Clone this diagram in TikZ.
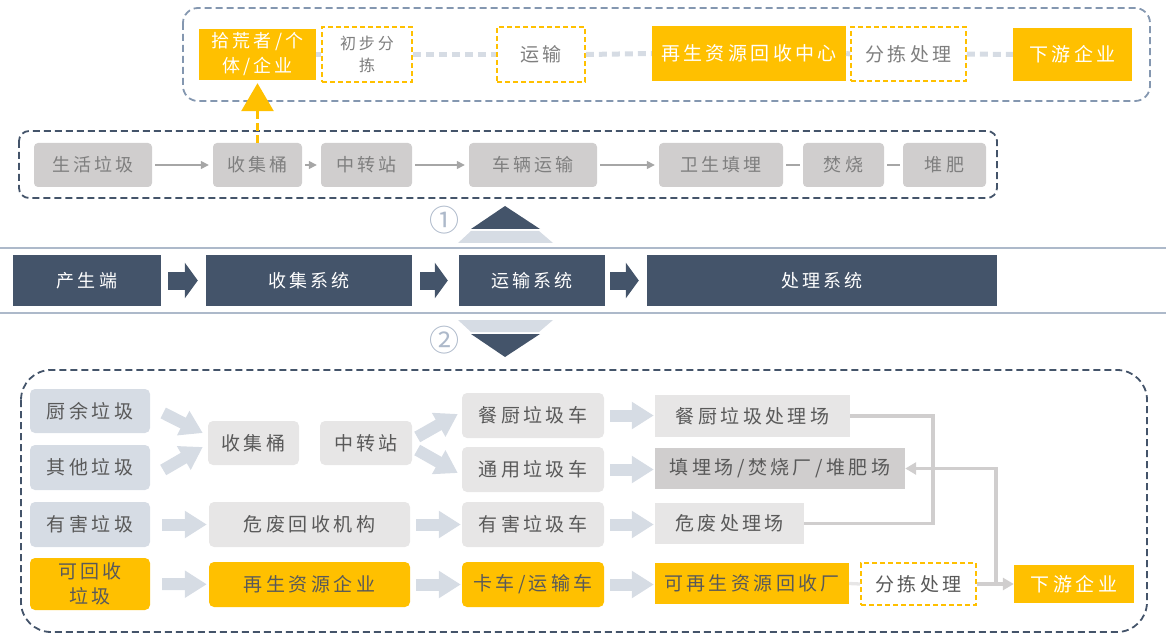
\documentclass[tikz,border=0pt]{standalone}
\usepackage{fontspec}
\newfontfamily\cjk{Noto Sans CJK SC}[LetterSpace=18]
\usetikzlibrary{arrows.meta,calc}

\definecolor{navy}{HTML}{44546A}
\definecolor{slate}{HTML}{8497B0}
\definecolor{gold}{HTML}{FFC000}
\definecolor{pale}{HTML}{D6DCE4}
\definecolor{lgray}{HTML}{E7E6E6}
\definecolor{mgray}{HTML}{D0CECE}
\definecolor{txt}{HTML}{595959}
\definecolor{softtxt}{HTML}{7F7F7F}
\definecolor{rulec}{HTML}{ADB9CA}

\tikzset{
  box/.style={inner sep=0pt, align=center, text=txt,
    font=\cjk\fontsize{19}{25}\selectfont},
  goldbox/.style={box, fill=gold},
  hollow/.style={box, fill=white, draw=gold, line width=1.6pt,
    dash pattern=on 5pt off 3pt, text=softtxt},
  greybox/.style={box, fill=mgray, rounded corners=4pt, text=softtxt,
    font=\cjk\fontsize{18}{24}\selectfont},
  bandbox/.style={box, fill=navy, text=white,
    font=\cjk\fontsize{18}{24}\selectfont},
  frame/.style={draw=navy, line width=1.8pt, dash pattern=on 7pt off 4pt},
  thin/.style={draw=black!35, line width=1.4pt, shorten <=3pt, shorten >=4pt},
  dotline/.style={draw=pale, line width=5pt, dash pattern=on 8pt off 5pt},
  darr/.style={draw=navy, line width=18pt, -{Triangle[length=13pt,width=35pt]}},
  lblk/.style={draw=pale, line width=12pt, -{Triangle[length=22pt,width=26pt]}},
  link/.style={draw=mgray, line width=3.3pt},
  marker/.style={text=rulec, inner sep=0pt, font=\cjk\fontsize{30}{30}\selectfont},
}

\begin{document}
\begin{tikzpicture}[x=1pt,y=-1pt]
  \useasboundingbox (0,0) rectangle (1166,636);

  % top: informal recycling chain
  \draw[frame, draw=slate, rounded corners=15pt] (183,8) rectangle (1150,101);
  \node[goldbox, text=white, minimum width=117, minimum height=51,
    font=\cjk\fontsize{18}{25}\selectfont] (a1) at (257.5,54.5) {拾荒者/个\\体/企业};
  \node[hollow, minimum width=90, minimum height=55,
    font=\cjk\fontsize{16}{22}\selectfont] (a2) at (367,54.5) {初步分\\拣};
  \node[hollow, minimum width=88, minimum height=55] (a3) at (541,54.5) {运输};
  \node[goldbox, text=white, minimum width=194, minimum height=55] (a4) at (749,53.5) {再生资源回收中心};
  \node[hollow, minimum width=115, minimum height=54] (a5) at (908.5,54) {分拣处理};
  \node[goldbox, text=white, minimum width=119, minimum height=53] (a6) at (1072.5,54.5) {下游企业};
  \draw[dotline] (a1.east) -- (a2.west);
  \draw[dotline] (a2.east) -- (a3.west);
  \draw[dotline] (a3.east) -- (a4.west);
  \draw[dotline] (a4.east) -- (a5.west);
  \draw[dotline] (a5.east) -- (a6.west);

  % middle: formal chain
  \draw[frame, rounded corners=10pt] (19,131) rectangle (997,198);
  \node[greybox, minimum width=118, minimum height=44] (b1) at (93,165) {生活垃圾};
  \node[greybox, minimum width=89, minimum height=44] (b2) at (257.5,165) {收集桶};
  \node[greybox, minimum width=91, minimum height=44] (b3) at (366.5,165) {中转站};
  \node[greybox, minimum width=128, minimum height=44] (b4) at (533,165) {车辆运输};
  \node[greybox, minimum width=124, minimum height=44] (b5) at (721,165) {卫生填埋};
  \node[greybox, minimum width=81, minimum height=44] (b6) at (843.5,165) {焚烧};
  \node[greybox, minimum width=83, minimum height=44] (b7) at (944.5,165) {堆肥};
  \draw[thin, -{Triangle[length=8pt,width=8pt]}] (b1) -- (b2);
  \draw[thin, -{Triangle[length=8pt,width=8pt]}] (b2) -- (b3);
  \draw[thin, -{Triangle[length=8pt,width=8pt]}] (b3) -- (b4);
  \draw[thin, -{Triangle[length=8pt,width=8pt]}] (b4) -- (b5);
  \draw[thin, shorten >=3pt] (b5) -- (b6);
  \draw[thin, shorten >=3pt] (b6) -- (b7);
  \draw[gold, line width=3pt, dash pattern=on 8pt off 4pt, shorten >=3pt,
    -{Triangle[length=28pt,width=32pt]}] (b2.north) -- (a1.south);

  % (1) marker
  \node[marker] (n1) at (444,220) {①};
  \fill[navy] (505,206) -- (540,229) -- (471,229) -- cycle;
  \fill[pale] (471,231) -- (539,231) -- (553,243) -- (458,243) -- cycle;

  % band of systems
  \draw[rulec, line width=2pt] (0,248) -- (1166,248);
  \draw[rulec, line width=2pt] (0,313) -- (1166,313);
  \node[bandbox, minimum width=148, minimum height=51] (c1) at (87,280.5) {产生端};
  \node[bandbox, minimum width=206, minimum height=51] (c2) at (309,280.5) {收集系统};
  \node[bandbox, minimum width=146, minimum height=51] (c3) at (532,280.5) {运输系统};
  \node[bandbox, minimum width=350, minimum height=51] (c4) at (822,280.5) {处理系统};
  \draw[darr, shorten <=7pt, shorten >=8pt] (c1) -- (c2);
  \draw[darr, shorten <=8pt, shorten >=11pt] (c2) -- (c3);
  \draw[darr, shorten <=5pt, shorten >=8pt] (c3) -- (c4);

  % (2) marker
  \node[marker] (n2) at (444,340) {②};
  \fill[pale] (458,320) -- (553,320) -- (539,332) -- (471,332) -- cycle;
  \fill[navy] (471,334) -- (540,334) -- (505,357) -- cycle;

  % bottom: sorted waste streams
  \draw[frame, rounded corners=30pt] (21,370) rectangle (1147,632);
  \node[box, fill=pale, rounded corners=5pt, minimum width=120, minimum height=44] (d1) at (90,411) {厨余垃圾};
  \node[box, fill=pale, rounded corners=5pt, minimum width=120, minimum height=45] (d2) at (90,467.5) {其他垃圾};
  \node[box, fill=pale, rounded corners=5pt, minimum width=120, minimum height=45] (d3) at (90,524.5) {有害垃圾};
  \node[goldbox, rounded corners=5pt, minimum width=120, minimum height=52] (d4) at (90,584) {可回收\\垃圾};

  \node[box, fill=lgray, rounded corners=5pt, minimum width=91, minimum height=44] (e1) at (253.5,443) {收集桶};
  \node[box, fill=lgray, rounded corners=5pt, minimum width=92, minimum height=44] (e2) at (366,443) {中转站};
  \node[box, fill=lgray, rounded corners=5pt, minimum width=201, minimum height=45] (e3) at (309.5,524.5) {危废回收机构};
  \node[goldbox, rounded corners=5pt, minimum width=201, minimum height=45] (e4) at (309.5,584.5) {再生资源企业};

  \node[box, fill=lgray, rounded corners=5pt, minimum width=142, minimum height=45] (f1) at (533,415.5) {餐厨垃圾车};
  \node[box, fill=lgray, rounded corners=5pt, minimum width=142, minimum height=45] (f2) at (533,469.5) {通用垃圾车};
  \node[box, fill=lgray, rounded corners=5pt, minimum width=142, minimum height=45] (f3) at (533,524.5) {有害垃圾车};
  \node[goldbox, rounded corners=5pt, minimum width=142, minimum height=45] (f4) at (533,584.5) {卡车/运输车};

  \node[box, fill=lgray, minimum width=195, minimum height=42] (g1) at (752.5,416) {餐厨垃圾处理场};
  \node[box, fill=mgray, minimum width=250, minimum height=41] (g2) at (780,468.5) {填埋场/焚烧厂/堆肥场};
  \node[box, fill=lgray, minimum width=149, minimum height=41] (g3) at (729.5,523.5) {危废处理场};
  \node[goldbox, minimum width=194, minimum height=41] (g4) at (752,583.5) {可再生资源回收厂};
  \node[hollow, text=txt, minimum width=115, minimum height=42] (g5) at (918.5,584) {分拣处理};
  \node[goldbox, text=white, minimum width=120, minimum height=38] (g6) at (1074,584) {下游企业};

  \draw[lblk] ($(d1.east)+(13,2)$) -- ($(e1.west)+(-5,-10)$);
  \draw[lblk] ($(d2.east)+(13,2.5)$) -- ($(e1.west)+(-5,4)$);
  \draw[lblk] ($(e2.east)+(5,-6)$) -- ($(f1.west)+(-4,-1.5)$);
  \draw[lblk] ($(e2.east)+(5,7)$) -- ($(f2.west)+(-4,3.5)$);
  \draw[lblk, shorten <=12pt, shorten >=2pt] (d3) -- (e3);
  \draw[lblk, shorten <=12pt, shorten >=2pt] (d4) -- (e4);
  \draw[lblk, shorten <=6pt, shorten >=1pt] (e3) -- (f3);
  \draw[lblk, shorten <=6pt, shorten >=1pt] (e4) -- (f4);
  \draw[lblk, shorten <=6pt, shorten >=1pt] (f1.east) -- (f1.east -| g1.west);
  \draw[lblk, shorten <=6pt, shorten >=1pt] (f2.east) -- (f2.east -| g2.west);
  \draw[lblk, shorten <=6pt, shorten >=1pt] (f3.east) -- (f3.east -| g3.west);
  \draw[lblk, shorten <=6pt, shorten >=1pt] (f4.east) -- (f4.east -| g4.west);

  \coordinate (m1) at (933,523.5);
  \coordinate (m2) at (996,584);
  \draw[link] (g1.east) -| (m1) -- (g3.east);
  \draw[link, -{Triangle[length=11pt,width=12pt]}] (m2) |- (g2.east);
  \draw[link, -{Triangle[length=11pt,width=12pt]}] (g5.east) -- (g6.west);
  \draw[link, draw=lgray] (g4.east) -- (g5.west);
\end{tikzpicture}
\end{document}
